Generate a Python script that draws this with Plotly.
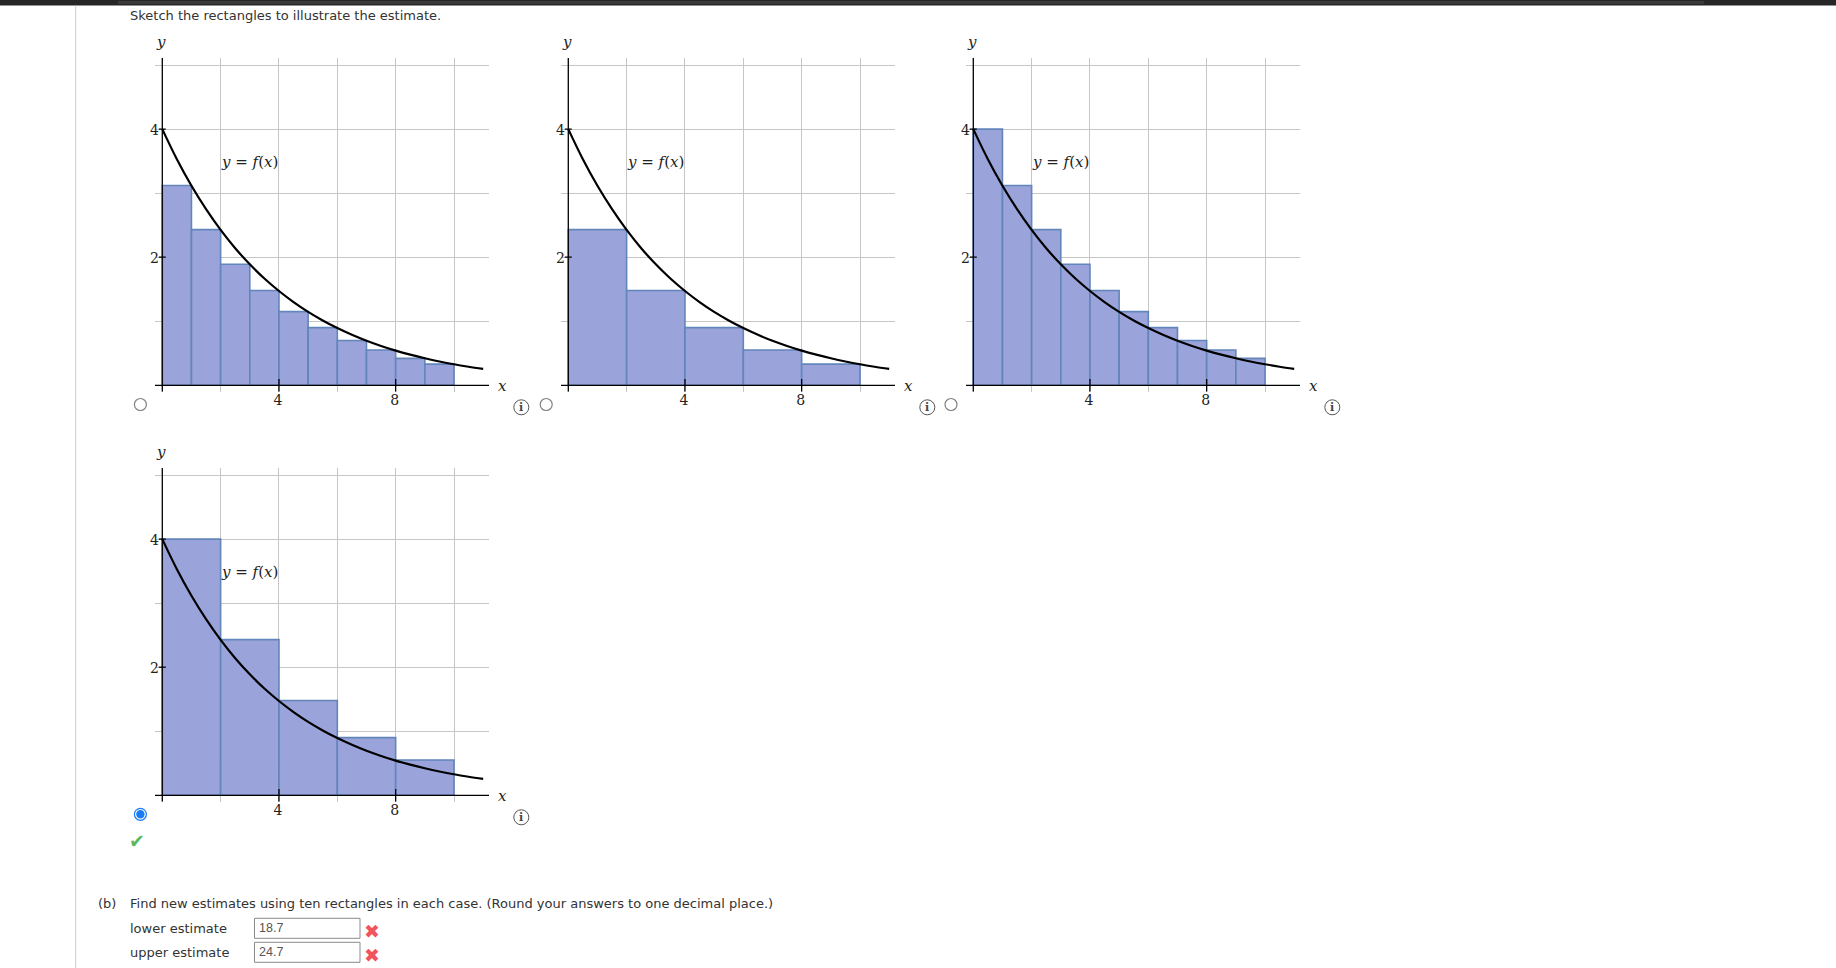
import plotly.graph_objects as go

W, H = 1836, 968

# rectangle left edges, widths and heights for each of the four sketches
lefts_a = [0, 1, 2, 3, 4, 5, 6, 7, 8, 9]
heights_a = [3.12, 2.43, 1.89, 1.48, 1.15, 0.90, 0.70, 0.55, 0.42, 0.33]
lefts_b = [0, 2, 4, 6, 8]
heights_b = [2.43, 1.48, 0.90, 0.55, 0.33]
lefts_c = [0, 1, 2, 3, 4, 5, 6, 7, 8, 9]
heights_c = [4.0, 3.12, 2.43, 1.89, 1.48, 1.15, 0.90, 0.70, 0.55, 0.42]
lefts_d = [0, 2, 4, 6, 8]
heights_d = [4.0, 2.43, 1.48, 0.90, 0.55]

# the curve y = f(x)
curve_x = [0, 0.5, 1, 1.5, 2, 2.5, 3, 3.5, 4, 4.5, 5, 5.5, 6, 6.5, 7, 7.5, 8, 8.5, 9, 9.5, 10, 10.5, 11]
curve_y = [4.0, 3.53, 3.115, 2.75, 2.426, 2.14, 1.889, 1.667, 1.472, 1.299, 1.146, 1.012, 0.893, 0.788,
           0.695, 0.614, 0.541, 0.478, 0.422, 0.372, 0.328, 0.29, 0.256]

grid_x = [0, 2, 4, 6, 8, 10]
grid_y = [0, 1, 2, 3, 4, 5]
xlabels = ['', '', '4', '', '8', '']
ylabels = ['', '', '2', '', '4', '']
major_x = [4, 8]
major_y = [2, 4]

# (left px, top px, rectangle width, lefts, heights)
panels = [
    (155, 58, 1, lefts_a, heights_a),
    (561, 58, 2, lefts_b, heights_b),
    (966, 58, 1, lefts_c, heights_c),
    (155, 468, 2, lefts_d, heights_d),
]

PANEL_W, PANEL_H = 334, 333.7
SERIF = 'DejaVu Serif'
SANS = 'DejaVu Sans'
TEXT = '#333333'


def px(x):
    return x / W


def py(y):
    return 1 - y / H


fig = go.Figure()
shapes = []
annotations = []


def text(x, y, s, size=13, color=TEXT, family=SANS, anchor='left'):
    annotations.append(dict(xref='paper', yref='paper', x=px(x), y=py(y), text=s, showarrow=False,
                            xanchor=anchor, yanchor='middle',
                            font=dict(family=family, size=size, color=color)))


def circle(cx, cy, r, line, fill='white', width=1.2):
    shapes.append(dict(type='circle', xref='paper', yref='paper', x0=px(cx - r), x1=px(cx + r),
                       y0=py(cy + r), y1=py(cy - r), line=dict(color=line, width=width), fillcolor=fill))


for i, (left, top, bar_w, lefts, heights) in enumerate(panels):
    n = '' if i == 0 else str(i + 1)
    xname, yname = 'x' + n, 'y' + n
    fig.add_trace(go.Bar(x=lefts, y=heights, width=bar_w, offset=0, xaxis=xname, yaxis=yname,
                         marker=dict(color='#9aa3da', line=dict(color='#6285ba', width=1.6)),
                         showlegend=False, hoverinfo='skip'))
    fig.add_trace(go.Scatter(x=curve_x, y=curve_y, mode='lines', xaxis=xname, yaxis=yname,
                             line=dict(color='black', width=2.2, shape='spline'),
                             showlegend=False, hoverinfo='skip'))
    axis_font = dict(family=SERIF, size=14, color='#222222')
    fig.update_layout({
        'xaxis' + n: dict(domain=[px(left), px(left + PANEL_W)], range=[-0.25, 11.2], anchor=yname,
                          tickvals=grid_x, ticktext=xlabels, tickfont=axis_font, ticks='',
                          ticklabelstandoff=-2, ticklabelshift=-1,
                          showgrid=True, gridcolor='#c6c6c6', gridwidth=1, zeroline=False, showline=False),
        'yaxis' + n: dict(domain=[py(top + PANEL_H), py(top)], range=[-0.1, 5.11], anchor=xname,
                          tickvals=grid_y, ticktext=ylabels, tickfont=axis_font, ticks='',
                          ticklabelstandoff=-5, ticklabelshift=1,
                          showgrid=True, gridcolor='#c6c6c6', gridwidth=1, zeroline=False, showline=False),
    })
    # axis lines and tick marks sit above the rectangles
    black = dict(color='black', width=1.3)
    shapes.append(dict(type='line', xref=xname, yref=yname, x0=0, x1=0, y0=-0.1, y1=5.11, line=black))
    shapes.append(dict(type='line', xref=xname, yref=yname, x0=-0.25, x1=11.2, y0=0, y1=0, line=black))
    for t in major_x:
        shapes.append(dict(type='line', xref=xname, yref=yname, x0=t, x1=t, y0=-0.1, y1=0.1, line=black))
    for t in major_y:
        shapes.append(dict(type='line', xref=xname, yref=yname, x0=-0.12, x1=0.12, y0=t, y1=t, line=black))
    text(left + 347, top + 328.3, '<i>x</i>', size=15, color='#222222', family=SERIF, anchor='center')
    text(left + 6, top - 16, '<i>y</i>', size=15, color='#222222', family=SERIF, anchor='center')
    annotations.append(dict(xref=xname, yref=yname, x=3.0, y=3.49, text='<i>y</i> = <i>f</i>(<i>x</i>)',
                            showarrow=False, font=dict(family=SERIF, size=15, color='#222222')))

# page furniture around the graphs
shapes.append(dict(type='rect', xref='paper', yref='paper', x0=0, x1=1, y0=py(5.5), y1=1,
                   line=dict(width=0), fillcolor='#262626'))
shapes.append(dict(type='rect', xref='paper', yref='paper', x0=px(118), x1=px(1704), y0=py(4), y1=py(1),
                   line=dict(width=0), fillcolor='#3a3a3a'))
shapes.append(dict(type='line', xref='paper', yref='paper', x0=px(75.7), x1=px(75.7), y0=0, y1=py(5.5),
                   line=dict(color='#cccccc', width=1)))

for cx in [140.4, 546.2, 951]:
    circle(cx, 404.5, 6, '#808080')
circle(140.4, 814.3, 6, '#1a7cf5')
circle(140.4, 814.3, 3.6, '#1a7cf5', fill='#1a7cf5')
text(137, 841, '✔', size=19, color='#5cb85c', anchor='center')

for cx, cy in [(521.3, 407.3), (927.3, 407.3), (1332.3, 407.3), (521.3, 817.3)]:
    circle(cx, cy, 7.5, '#555555', width=1)
    text(cx, cy, '<b>i</b>', size=11, color='#444444', family=SERIF, anchor='center')

text(127.6, 15.7, 'Sketch the rectangles to illustrate the estimate.')
text(95.5, 903.7, '(b)')
text(127.6, 903.7, 'Find new estimates using ten rectangles in each case. (Round your answers to one decimal place.)')
for label, value, y0, y1 in [('lower estimate', '18.7', 918.3, 938.3), ('upper estimate', '24.7', 942.3, 962.3)]:
    mid = (y0 + y1) / 2
    text(127.6, mid, label)
    shapes.append(dict(type='rect', xref='paper', yref='paper', x0=px(254.5), x1=px(360), y0=py(y1), y1=py(y0),
                       line=dict(color='#8a8a8a', width=1), fillcolor='white'))
    text(256.5, mid, value, size=12.5, color='#555555', family='Liberation Sans')
    text(372.3, mid + 2.4, '✖', size=19, color='#f2545b', anchor='center')

fig.update_layout(width=W, height=H, margin=dict(l=0, r=0, t=0, b=0), autosize=False,
                  paper_bgcolor='white', plot_bgcolor='white', shapes=shapes, annotations=annotations)

fig.write_html("out.html", post_script="document.body.style.margin='0';", config=dict(displayModeBar=False))
